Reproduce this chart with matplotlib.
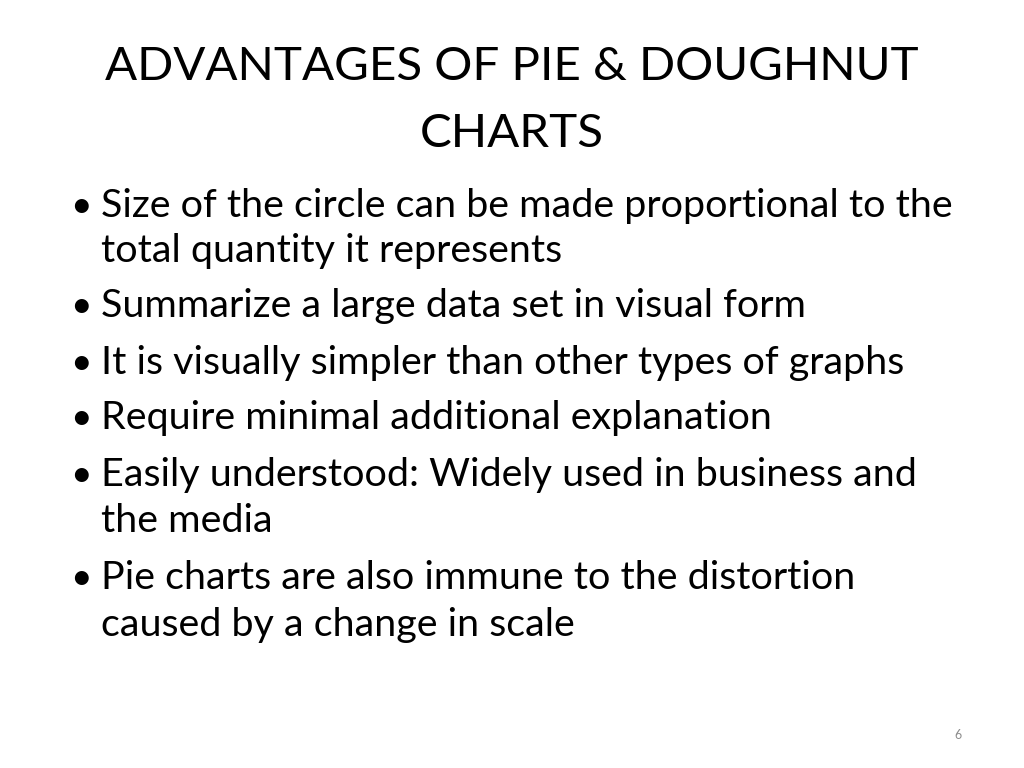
import matplotlib
matplotlib.use("Agg")
import matplotlib.pyplot as plt

# slide content
title_lines = ["ADVANTAGES OF PIE & DOUGHNUT", "CHARTS"]
bullets = [
    ["Size of the circle can be made proportional to the",
     "total quantity it represents"],
    ["Summarize a large data set in visual form"],
    ["It is visually simpler than other types of graphs"],
    ["Require minimal additional explanation"],
    ["Easily understood: Widely used in business and",
     "the media"],
    ["Pie charts are also immune to the distortion",
     "caused by a change in scale"],
]
page_number = "6"

W, H = 1024, 768
FONT = "Lato"

fig = plt.figure(figsize=(W / 100, H / 100), dpi=100)
fig.patch.set_facecolor("white")
renderer = fig.canvas.get_renderer()


def px(x, y):
    return x / W, 1 - y / H


def fit_size(text, target_width, start=30):
    t = fig.text(0, 0, text, fontsize=start, family=FONT)
    w = t.get_window_extent(renderer).width
    t.remove()
    return start * target_width / w


title_fs = fit_size(title_lines[0], 810)
body_fs = fit_size(bullets[0][0], 851)

# title
for line, base in zip(title_lines, [80, 147]):
    fig.text(*px(512, base), line, fontsize=title_fs, family=FONT,
             ha="center", va="baseline", color="black")

# bullet list
baselines = [217, 262, 317, 374, 429, 486, 532, 589, 636]
i = 0
for item in bullets:
    for j, line in enumerate(item):
        y = baselines[i]
        if j == 0:
            fig.text(*px(81, y), "\u2022", fontsize=body_fs * 0.95,
                     family=FONT, ha="center", va="baseline", color="black")
        fig.text(*px(101, y), line, fontsize=body_fs, family=FONT,
                 ha="left", va="baseline", color="black")
        i += 1

fig.text(*px(958, 739), page_number, fontsize=9, family=FONT,
         ha="center", va="baseline", color="#8c8c8c")

fig.savefig("out.png", dpi=100, facecolor="white")
